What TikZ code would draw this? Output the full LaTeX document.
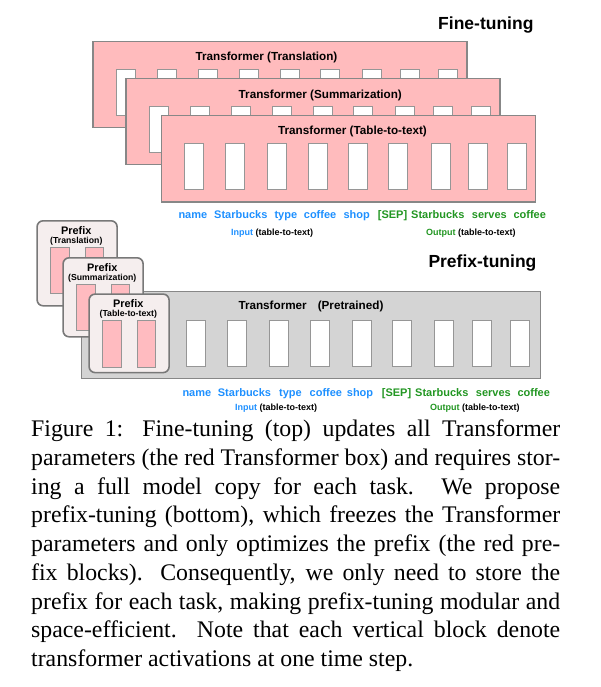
\documentclass[tikz,border=0pt]{standalone}
\usepackage{fontspec}
\setmainfont{Liberation Serif}
\newfontfamily\diagfont{Liberation Sans}
\definecolor{ftpink}{RGB}{255,187,189}
\definecolor{pfpink}{RGB}{255,187,192}
\definecolor{boxgray}{RGB}{135,135,135}
\definecolor{actgray}{RGB}{150,150,150}
\definecolor{ptgray}{RGB}{212,212,212}
\definecolor{pffill}{RGB}{245,238,238}
\definecolor{pfborder}{RGB}{120,120,120}
\definecolor{inblue}{RGB}{30,144,255}
\definecolor{outgreen}{RGB}{34,150,34}
\begin{document}
\begin{tikzpicture}[x=1pt,y=-1pt,
  ftbox/.style={draw=boxgray, line width=1.2pt, fill=ftpink, anchor=north west,
    minimum width=374pt, minimum height=86pt, inner sep=0},
  ptbox/.style={draw=boxgray, line width=1.2pt, fill=ptgray, anchor=north west,
    minimum width=459pt, minimum height=87pt, inner sep=0},
  act/.style={draw=actgray, line width=0.9pt, fill=white, anchor=north west,
    minimum width=19pt, minimum height=46pt, inner sep=0},
  pfbox/.style={draw=pfborder, line width=1.6pt, fill=pffill, rounded corners=6pt,
    anchor=north west, minimum width=80pt, inner sep=0},
  pfact/.style={draw=actgray, line width=0.9pt, fill=pfpink, anchor=north west,
    minimum width=18.5pt, minimum height=46.5pt, inner sep=0},
  lbl/.style={inner sep=0, anchor=base west},
  heading/.style={lbl, font=\diagfont\bfseries\fontsize{17.5}{20}\selectfont},
  boxtitle/.style={inner sep=0, anchor=base, font=\diagfont\bfseries\fontsize{11.7}{14}\selectfont},
  word/.style={lbl, font=\diagfont\bfseries\fontsize{11}{13}\selectfont},
  inw/.style={word, text=inblue},
  outw/.style={word, text=outgreen},
  iolbl/.style={lbl, font=\diagfont\bfseries\fontsize{9}{11}\selectfont},
  pfname/.style={inner sep=0, anchor=base, font=\diagfont\bfseries\fontsize{10.9}{13}\selectfont},
  pfsub/.style={inner sep=0, anchor=base, font=\diagfont\bfseries\fontsize{8.7}{10}\selectfont},
  capline/.style={inner sep=0, anchor=base west, font=\fontsize{23.8}{28.75}\selectfont}
]
\useasboundingbox (0,0) rectangle (600,687);

% ---------------- Fine-tuning ----------------
\node[heading] (fthead) at (438,30) {Fine-tuning};

\node[ftbox] (ft1) at (92.3,41) {};
\foreach \o [count=\i] in {23.3,64.3,105.7,146.7,187.3,227.3,270,307.3,345.7}
  \node[act] (ft1r\i) at ([shift={(\o,28)}]ft1.north west) {};
\node[boxtitle] (ft1t) at (266.5,61) {Transformer (Translation)};

\node[ftbox] (ft2) at (125.3,78.3) {};
\foreach \o [count=\i] in {23.3,64.3,105.7,146.7,187.3,227.3,270,307.3,345.7}
  \node[act] (ft2r\i) at ([shift={(\o,28)}]ft2.north west) {};
\node[boxtitle] (ft2t) at (320.3,98.2) {Transformer (Summarization)};

\node[ftbox] (ft3) at (161,115.3) {};
\foreach \o [count=\i] in {23.3,64.3,105.7,146.7,187.3,227.3,270,307.3,345.7}
  \node[act] (ft3r\i) at ([shift={(\o,28)}]ft3.north west) {};
\node[boxtitle] (ft3t) at (352.5,135) {Transformer (Table-to-text)};

\node[inw] (tw1) at (178.3,218.5) {name};
\node[inw] (tw2) at (214,218.5) {Starbucks};
\node[inw] (tw3) at (274.3,218.5) {type};
\node[inw] (tw4) at (303.7,218.5) {coffee};
\node[inw] (tw5) at (343.3,218.5) {shop};
\node[outw] (tw6) at (377.7,218.5) {[SEP]};
\node[outw] (tw7) at (411,218.5) {Starbucks};
\node[outw] (tw8) at (471.7,218.5) {serves};
\node[outw] (tw9) at (513.3,218.5) {coffee};
\node[iolbl] (tin) at (231,235.3) {\textcolor{inblue}{Input} (table-to-text)};
\node[iolbl] (tout) at (426,235.3) {\textcolor{outgreen}{Output} (table-to-text)};

% ---------------- Prefix-tuning ----------------
\node[heading] (pthead) at (428.3,267) {Prefix-tuning};

\node[ptbox] (pt) at (81,291) {};
\foreach \x [count=\i] in {186,227.3,268.7,309.5,351.7,391.7,434.3,472.3,510.3}
  \node[act] (ptr\i) at (\x,319.5) {};
\node[lbl, font=\diagfont\bfseries\fontsize{11.7}{14}\selectfont] (ptt) at (238.3,309.4)
  {Transformer\hspace{11pt}(Pretrained)};

\node[pfbox, minimum height=85pt] (pf1) at (36.3,220) {};
\node[pfact] (pf1a) at ([shift={(14,26.7)}]pf1.north west) {};
\node[pfact] (pf1b) at ([shift={(48.5,26.7)}]pf1.north west) {};
\node[pfname] (pf1n) at ([shift={(40,14)}]pf1.north west) {Prefix};
\node[pfsub] (pf1s) at ([shift={(40,23)}]pf1.north west) {(Translation)};

\node[pfbox, minimum height=79pt] (pf2) at (62.3,257) {};
\node[pfact] (pf2a) at ([shift={(14,26.7)}]pf2.north west) {};
\node[pfact] (pf2b) at ([shift={(48.5,26.7)}]pf2.north west) {};
\node[pfname] (pf2n) at ([shift={(40,14)}]pf2.north west) {Prefix};
\node[pfsub] (pf2s) at ([shift={(40,23)}]pf2.north west) {(Summarization)};

\node[pfbox, minimum height=78.5pt] (pf3) at (88.3,293.3) {};
\node[pfact] (pf3a) at ([shift={(14,26.7)}]pf3.north west) {};
\node[pfact] (pf3b) at ([shift={(48.5,26.7)}]pf3.north west) {};
\node[pfname] (pf3n) at ([shift={(40,14)}]pf3.north west) {Prefix};
\node[pfsub] (pf3s) at ([shift={(40,23)}]pf3.north west) {(Table-to-text)};

\node[inw] (bw1) at (182.3,396) {name};
\node[inw] (bw2) at (217.7,396) {Starbucks};
\node[inw] (bw3) at (279,396) {type};
\node[inw] (bw4) at (309.5,396) {coffee};
\node[inw] (bw5) at (346.7,396) {shop};
\node[outw] (bw6) at (381.7,396) {[SEP]};
\node[outw] (bw7) at (415,396) {Starbucks};
\node[outw] (bw8) at (475.7,396) {serves};
\node[outw] (bw9) at (517.3,396) {coffee};
\node[iolbl] (bin) at (235,410) {\textcolor{inblue}{Input} (table-to-text)};
\node[iolbl] (bout) at (430,410) {\textcolor{outgreen}{Output} (table-to-text)};

% ---------------- Caption ----------------
\node[capline] (cap1) at (31,436.7)  {\hbox to 529pt{Figure 1: Fine-tuning (top) updates all Transformer}};
\node[capline] (cap2) at (31,465.45) {\hbox to 529pt{parameters (the red Transformer box) and requires stor-}};
\node[capline] (cap3) at (31,494.2)  {\hbox to 529pt{ing a full model copy for each task. We propose}};
\node[capline] (cap4) at (31,522.95) {\hbox to 529pt{prefix-tuning (bottom), which freezes the Transformer}};
\node[capline] (cap5) at (31,551.7)  {\hbox to 529pt{parameters and only optimizes the prefix (the red pre-}};
\node[capline] (cap6) at (31,580.45) {\hbox to 529pt{fix blocks). Consequently, we only need to store the}};
\node[capline] (cap7) at (31,609.2)  {\hbox to 529pt{prefix for each task, making prefix-tuning modular and}};
\node[capline] (cap8) at (31,637.95) {\hbox to 529pt{space-efficient. Note that each vertical block denote}};
\node[capline] (cap9) at (31,666.7)  {transformer activations at one time step.};
\end{tikzpicture}
\end{document}
